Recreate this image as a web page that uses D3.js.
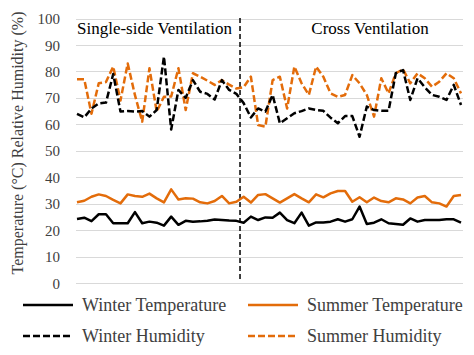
<!DOCTYPE html>
<html><head><meta charset="utf-8">
<script src="https://cdn.jsdelivr.net/npm/d3@7"></script>
<style>body{margin:0;background:#fff}svg{display:block}</style>
</head><body>
<script>
const yTicks = [0,10,20,30,40,50,60,70,80,90,100];
const winterTemp = [24.2,24.7,23.4,26.0,26.0,22.6,22.6,22.6,26.8,22.6,23.2,22.8,21.7,25.1,22.0,23.5,23.2,23.3,23.5,24.0,23.8,23.6,23.5,
  22.8,25.1,23.8,24.8,24.7,26.6,23.8,22.6,26.6,21.7,22.9,22.9,23.2,24.1,23.2,24.1,28.9,22.3,22.8,24.1,22.6,22.3,22.0,24.4,23.2,23.8,23.8,23.8,24.1,24.1,22.8];
const summerTemp = [30.5,31.1,32.6,33.5,32.9,31.4,30.1,33.5,32.9,32.6,33.8,32.0,30.5,35.4,31.6,32.0,31.9,30.5,30.1,31.0,32.9,30.1,30.7,
  32.6,30.4,33.3,33.6,32.0,30.4,32.0,33.6,32.0,30.5,33.5,32.4,33.9,34.8,34.8,30.7,32.4,30.5,32.3,31.0,30.5,32.0,31.6,30.1,32.3,32.9,30.5,30.1,28.9,32.9,33.3];
const winterHum = [63.9,62.6,66.0,67.9,68.2,79.0,64.8,65.0,64.8,65.0,62.9,65.4,85.6,58.0,73.0,70.0,76.7,72.3,71.5,69.4,76.7,73.0,71.5,
  68.0,62.6,66.0,64.8,71.1,60.4,62.3,64.2,65.0,66.0,65.4,65.1,62.5,60.4,63.1,63.1,55.3,66.7,65.4,65.1,65.1,79.3,80.5,69.2,77.4,74.0,71.1,70.4,69.2,74.9,67.3];
const summerHum = [77.0,77.0,64.0,75.5,76.0,81.8,69.0,83.0,71.0,61.0,81.2,64.8,70.4,70.5,81.2,65.4,79.3,78.0,76.5,74.9,76.7,75.0,73.5,
  74.0,78.0,59.7,59.1,76.7,78.0,66.0,81.8,75.5,71.1,81.8,78.0,71.7,70.4,71.1,78.6,75.5,71.1,62.9,77.4,71.7,79.3,80.8,75.5,79.3,77.4,74.2,76.1,79.3,77.4,71.7];
const sections = ["Single-side Ventilation","Cross Ventilation"];
const splitAfter = 22; // last index of single-side section
const seriesNames = ["Winter Temperature","Summer Temperature","Winter Humidity","Summer Humidity"];

const W=474,H=355;
const orange="#E36C0A";
const font="'Liberation Serif','Times New Roman',serif";
const svg=d3.select("body").append("svg").attr("width",W).attr("height",H);

const idx=d3.range(winterTemp.length);
const x=d3.scalePoint().domain(idx).range([77,461]);
const y=d3.scaleLinear().domain([0,100]).range([283,18.5]);

// gridlines
svg.append("g").selectAll("line").data(yTicks).join("line")
  .attr("x1",76).attr("x2",463).attr("y1",d=>Math.round(y(d))+0.5).attr("y2",d=>Math.round(y(d))+0.5)
  .attr("stroke","#d9d9d9").attr("stroke-width",1);

// y axis labels
const yAxis=d3.axisLeft(y).tickValues(yTicks).tickSize(0).tickPadding(0);
const ga=svg.append("g").attr("transform","translate(60,0)").call(yAxis);
ga.select(".domain").remove();
ga.selectAll("text").attr("font-family",font).attr("font-size",15).attr("fill","#404040").attr("dy","0.34em");

// axis title
svg.append("text").attr("transform","translate(23,143) rotate(-90)")
  .attr("text-anchor","middle").attr("font-family",font).attr("font-size",16).attr("fill","#404040")
  .text("Temperature (°C) Relative Humidity (%)");

// separator
const sepX=(x(splitAfter)+x(splitAfter+1))/2;
svg.append("line").attr("x1",sepX).attr("x2",sepX).attr("y1",18).attr("y2",279)
  .attr("stroke","#000").attr("stroke-width",1.5).attr("stroke-dasharray","5,3");

// section titles
svg.append("text").attr("x",77).attr("y",34).attr("font-family",font).attr("font-size",17).attr("fill","#000").text(sections[0]);
svg.append("text").attr("x",370).attr("y",34).attr("text-anchor","middle").attr("font-family",font).attr("font-size",17).attr("fill","#000").text(sections[1]);

const line=d3.line().x((d,i)=>x(i)).y(d=>y(d));
const series=[
  {data:winterTemp,color:"#000",dash:null},
  {data:summerTemp,color:orange,dash:null},
  {data:winterHum,color:"#000",dash:"7,3"},
  {data:summerHum,color:orange,dash:"7,3"}
];
[3,2,1,0].forEach(k=>{
  const s=series[k];
  svg.append("path").attr("d",line(s.data)).attr("fill","none").attr("stroke",s.color)
    .attr("stroke-width",2.5).attr("stroke-linejoin","round")
    .attr("stroke-dasharray",s.dash);
});

// legend
const legPos=[[23,305],[248,305],[23,336],[248,336]];
seriesNames.forEach((n,k)=>{
  const [lx,ly]=legPos[k];
  svg.append("line").attr("x1",lx).attr("x2",lx+50).attr("y1",ly).attr("y2",ly)
    .attr("stroke",series[k].color).attr("stroke-width",2.5).attr("stroke-dasharray",series[k].dash);
  svg.append("text").attr("x",lx+59).attr("y",ly+6).attr("font-family",font).attr("font-size",18)
    .attr("fill","#404040").text(n);
});
</script>
</body></html>
